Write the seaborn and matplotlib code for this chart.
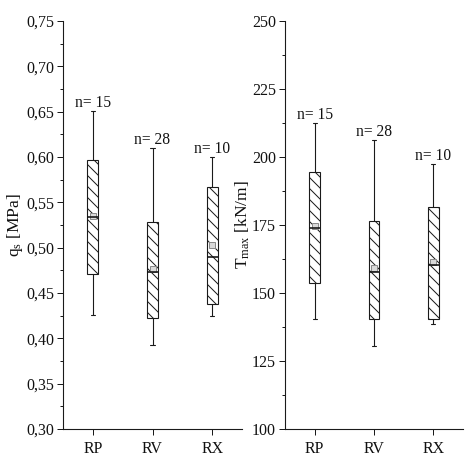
import matplotlib
matplotlib.use("Agg")
import matplotlib.pyplot as plt
import seaborn as sns
import pandas as pd
from matplotlib.ticker import AutoMinorLocator, FuncFormatter

# ---------------- data ----------------
groups = ["RP", "RV", "RX"]
n_counts = [15, 28, 10]

qs_whislo = [0.426, 0.393, 0.425]
qs_q1 = [0.471, 0.422, 0.438]
qs_med = [0.534, 0.473, 0.490]
qs_q3 = [0.597, 0.528, 0.567]
qs_whishi = [0.651, 0.610, 0.600]
qs_mean = [0.535, 0.477, 0.503]

t_whislo = [140.6, 130.6, 138.5]
t_q1 = [153.6, 140.6, 140.6]
t_med = [174.0, 157.6, 160.3]
t_q3 = [194.6, 176.6, 181.6]
t_whishi = [212.6, 206.1, 197.4]
t_mean = [174.5, 159.1, 161.5]

qs_ticks = [0.30, 0.35, 0.40, 0.45, 0.50, 0.55, 0.60, 0.65, 0.70, 0.75]
t_ticks = [100, 125, 150, 175, 200, 225, 250]

# ---------------- setup ----------------
DPI = 66
W, H = 474, 465
PX = 72.0 / DPI  # points per pixel

sns.set_style("ticks")
plt.rcParams["font.family"] = ["Liberation Serif", "DejaVu Serif"]
plt.rcParams["mathtext.fontset"] = "custom"
plt.rcParams["mathtext.rm"] = "Liberation Serif"
plt.rcParams["mathtext.it"] = "Liberation Serif"
plt.rcParams["hatch.linewidth"] = 1.0 * PX
plt.rcParams["hatch.color"] = "black"

fig = plt.figure(figsize=(W / DPI, H / DPI), dpi=DPI)
fig.patch.set_facecolor("white")

ax1 = fig.add_axes([63 / W, (H - 429) / H, (242 - 63) / W, (429 - 21) / H])
ax2 = fig.add_axes([285 / W, (H - 429) / H, (463 - 285) / W, (429 - 21) / H])


def long_frame(lo, q1, med, q3, hi):
    rows = []
    for g, a, b, c, d, e in zip(groups, lo, q1, med, q3, hi):
        for v in (a, b, c, d, e):
            rows.append({"group": g, "value": v})
    return pd.DataFrame(rows)


def panel(ax, lo, q1, med, q3, hi, mean, ticks, ylim, fmt, ylabel, labelpad):
    df = long_frame(lo, q1, med, q3, hi)
    sns.boxplot(data=df, x="group", y="value", order=groups, ax=ax,
                whis=(0, 100), width=0.18, color="white", saturation=1,
                linecolor="#1a1a1a", linewidth=1.1 * PX, showfliers=False,
                capwidths=0.07,
                medianprops={"linewidth": 1.6 * PX, "color": "#111111"})
    for p in ax.patches:
        p.set_hatch("\\\\")
        p.set_edgecolor("#1a1a1a")
    sns.pointplot(x=groups, y=mean, ax=ax, order=groups, markers="s",
                  linestyles="none", color="#8a8a8a", errorbar=None,
                  markersize=7 * PX, markerfacecolor="#d9d9d9",
                  markeredgecolor="#8a8a8a", markeredgewidth=1.0 * PX)
    for i, n in enumerate(n_counts):
        ax.annotate(f"n= {n}", xy=(i, hi[i]), xytext=(0, 4),
                    textcoords="offset pixels", ha="center", va="baseline",
                    fontsize=15.5 * PX, color="#111111")
    ax.set_xlim(-0.5, 2.5)
    ax.set_ylim(*ylim)
    ax.set_yticks(ticks)
    ax.yaxis.set_minor_locator(AutoMinorLocator(2))
    ax.yaxis.set_major_formatter(FuncFormatter(fmt))
    ax.set_xlabel("")
    ax.set_ylabel(ylabel, fontsize=17.5 * PX, labelpad=labelpad * PX, color="#111111")
    for s in ("top", "right"):
        ax.spines[s].set_visible(False)
    for s in ("left", "bottom"):
        ax.spines[s].set_linewidth(1.1 * PX)
        ax.spines[s].set_color("#1a1a1a")
    ax.tick_params(axis="both", which="major", direction="out", length=6 * PX,
                   width=1.0 * PX, labelsize=16 * PX, pad=3 * PX, color="#1a1a1a",
                   labelcolor="#111111")
    ax.tick_params(axis="y", which="minor", direction="out", length=3.5 * PX,
                   width=1.0 * PX, color="#1a1a1a")
    ax.tick_params(axis="x", which="major", pad=6 * PX)
    ax.set_facecolor("white")
    ax.grid(False)


panel(ax1, qs_whislo, qs_q1, qs_med, qs_q3, qs_whishi, qs_mean, qs_ticks,
      (0.30, 0.75), lambda v, p: f"{v:.2f}".replace(".", ","),
      r"q$_\mathrm{s}$ [MPa]", 1)
panel(ax2, t_whislo, t_q1, t_med, t_q3, t_whishi, t_mean, t_ticks,
      (100, 250), lambda v, p: f"{v:.0f}",
      r"T$_\mathrm{max}$ [kN/m]", 0)

fig.savefig("out.png", dpi=DPI, facecolor="white")
